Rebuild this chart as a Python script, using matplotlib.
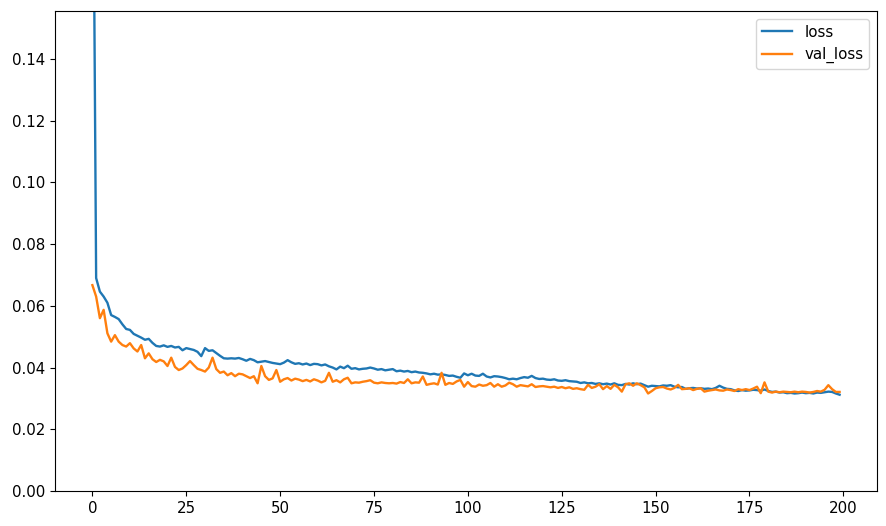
import matplotlib
matplotlib.use('Agg')
import matplotlib.pyplot as plt
import numpy as np

# training history, one value per epoch
loss = [
    0.2500, 0.0690, 0.0646, 0.0630, 0.0610, 0.0570, 0.0564, 0.0557, 0.0540, 0.0525,
    0.0522, 0.0509, 0.0503, 0.0497, 0.0490, 0.0493, 0.0480, 0.0470, 0.0468, 0.0472,
    0.0467, 0.0470, 0.0465, 0.0467, 0.0456, 0.0463, 0.0460, 0.0457, 0.0451, 0.0437,
    0.0463, 0.0454, 0.0456, 0.0447, 0.0438, 0.0430, 0.0429, 0.0430, 0.0429, 0.0431,
    0.0427, 0.0422, 0.0428, 0.0424, 0.0417, 0.0419, 0.0421, 0.0418, 0.0415, 0.0413,
    0.0411, 0.0416, 0.0424, 0.0417, 0.0412, 0.0414, 0.0410, 0.0413, 0.0408, 0.0412,
    0.0411, 0.0407, 0.0410, 0.0404, 0.0400, 0.0394, 0.0403, 0.0398, 0.0406, 0.0396,
    0.0398, 0.0394, 0.0396, 0.0397, 0.0400, 0.0397, 0.0393, 0.0395, 0.0391, 0.0393,
    0.0395, 0.0388, 0.0390, 0.0387, 0.0389, 0.0385, 0.0387, 0.0384, 0.0383, 0.0381,
    0.0378, 0.0380, 0.0377, 0.0378, 0.0376, 0.0373, 0.0374, 0.0370, 0.0367, 0.0381,
    0.0375, 0.0380, 0.0374, 0.0373, 0.0380, 0.0371, 0.0368, 0.0372, 0.0371, 0.0369,
    0.0366, 0.0362, 0.0364, 0.0362, 0.0366, 0.0369, 0.0367, 0.0373, 0.0366, 0.0363,
    0.0364, 0.0361, 0.0360, 0.0362, 0.0358, 0.0357, 0.0359, 0.0356, 0.0355, 0.0354,
    0.0350, 0.0352, 0.0349, 0.0350, 0.0347, 0.0349, 0.0346, 0.0348, 0.0345, 0.0349,
    0.0344, 0.0343, 0.0347, 0.0345, 0.0349, 0.0346, 0.0348, 0.0343, 0.0338, 0.0341,
    0.0340, 0.0339, 0.0342, 0.0341, 0.0343, 0.0338, 0.0336, 0.0337, 0.0331, 0.0333,
    0.0334, 0.0332, 0.0333, 0.0331, 0.0332, 0.0330, 0.0334, 0.0341, 0.0335, 0.0331,
    0.0330, 0.0326, 0.0324, 0.0327, 0.0325, 0.0326, 0.0328, 0.0327, 0.0325, 0.0329,
    0.0324, 0.0321, 0.0322, 0.0319, 0.0320, 0.0317, 0.0318, 0.0316, 0.0317, 0.0319,
    0.0317, 0.0318, 0.0316, 0.0319, 0.0318, 0.0320, 0.0322, 0.0321, 0.0316, 0.0312,
]

val_loss = [
    0.0667, 0.0630, 0.0560, 0.0587, 0.0511, 0.0484, 0.0505, 0.0484, 0.0473, 0.0468,
    0.0479, 0.0462, 0.0452, 0.0473, 0.0430, 0.0446, 0.0427, 0.0418, 0.0425, 0.0420,
    0.0405, 0.0432, 0.0402, 0.0392, 0.0397, 0.0408, 0.0421, 0.0408, 0.0396, 0.0392,
    0.0387, 0.0400, 0.0432, 0.0395, 0.0383, 0.0387, 0.0375, 0.0382, 0.0372, 0.0380,
    0.0378, 0.0372, 0.0366, 0.0372, 0.0349, 0.0405, 0.0372, 0.0360, 0.0365, 0.0392,
    0.0354, 0.0362, 0.0366, 0.0358, 0.0364, 0.0361, 0.0356, 0.0360, 0.0355, 0.0362,
    0.0358, 0.0352, 0.0357, 0.0383, 0.0354, 0.0359, 0.0352, 0.0362, 0.0367, 0.0349,
    0.0352, 0.0351, 0.0354, 0.0356, 0.0359, 0.0351, 0.0349, 0.0352, 0.0350, 0.0349,
    0.0350, 0.0348, 0.0353, 0.0350, 0.0362, 0.0349, 0.0352, 0.0351, 0.0371, 0.0344,
    0.0347, 0.0349, 0.0345, 0.0383, 0.0344, 0.0350, 0.0347, 0.0355, 0.0360, 0.0338,
    0.0353, 0.0340, 0.0338, 0.0345, 0.0341, 0.0343, 0.0350, 0.0338, 0.0346, 0.0338,
    0.0342, 0.0351, 0.0346, 0.0338, 0.0343, 0.0341, 0.0339, 0.0346, 0.0337, 0.0339,
    0.0340, 0.0338, 0.0336, 0.0338, 0.0334, 0.0337, 0.0333, 0.0336, 0.0331, 0.0333,
    0.0330, 0.0328, 0.0344, 0.0334, 0.0338, 0.0346, 0.0330, 0.0340, 0.0331, 0.0344,
    0.0336, 0.0322, 0.0346, 0.0349, 0.0341, 0.0349, 0.0343, 0.0336, 0.0316, 0.0324,
    0.0333, 0.0336, 0.0337, 0.0332, 0.0329, 0.0334, 0.0344, 0.0330, 0.0331, 0.0333,
    0.0327, 0.0331, 0.0333, 0.0322, 0.0325, 0.0327, 0.0329, 0.0326, 0.0325, 0.0329,
    0.0327, 0.0324, 0.0330, 0.0327, 0.0330, 0.0327, 0.0332, 0.0338, 0.0317, 0.0352,
    0.0322, 0.0319, 0.0322, 0.0320, 0.0322, 0.0321, 0.0320, 0.0322, 0.0320, 0.0322,
    0.0321, 0.0319, 0.0321, 0.0324, 0.0322, 0.0328, 0.0343, 0.0330, 0.0321, 0.0321,
]

epochs = np.arange(len(loss))

fig = plt.figure(figsize=(8.86, 5.26), dpi=100)
ax = fig.add_axes([0.0621, 0.0665, 0.9277, 0.9125])

ax.plot(epochs, loss, label='loss', linewidth=1.7)
ax.plot(epochs, val_loss, label='val_loss', linewidth=1.7)

ax.set_ylim(0, 0.1555)
ax.set_yticks(np.arange(0, 0.141, 0.02))
ax.set_xticks([0, 25, 50, 75, 100, 125, 150, 175, 200])
ax.tick_params(labelsize=10.8)
ax.legend(loc='upper right', fontsize=10.8)

fig.savefig('out.png', dpi=100)
